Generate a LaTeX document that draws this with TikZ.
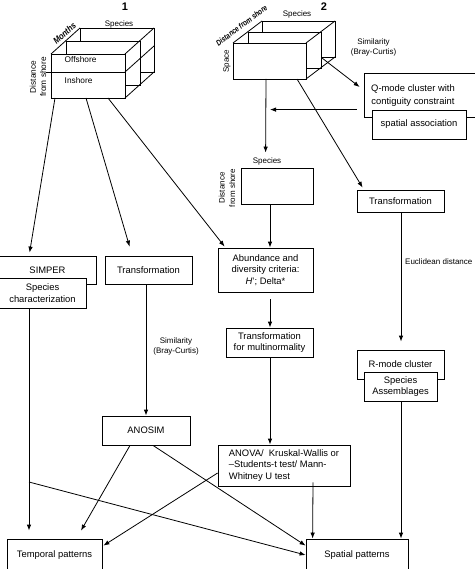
\documentclass[tikz,border=0pt]{standalone}
\usepackage{fontspec}
\setmainfont{Liberation Sans}
\usetikzlibrary{arrows.meta,calc}
\begin{document}
\begin{tikzpicture}[x=1pt,y=-1pt,
  box/.style={draw, fill=white, line width=0.8pt, inner sep=0pt, align=center, font=\fontsize{9.4}{11.4}\selectfont},
  lbl/.style={inner sep=0pt, align=center, font=\fontsize{8}{10.6}\selectfont},
  ttl/.style={inner sep=0pt, font=\bfseries\fontsize{11}{13}\selectfont},
  slant/.style={inner sep=0pt, font=\bfseries\itshape\fontsize{9}{9}\selectfont},
  ln/.style={line width=0.8pt},
  arr/.style={ln, -{Latex[length=6pt,width=4.5pt]}},
]
\fill[white] (0,0) rectangle (474,569);
\useasboundingbox (0,0) rectangle (474,569);

% ---------- cube 1 ----------
\draw[ln] (51,54) rectangle (125,98);
\draw[ln] (46,72) -- (125,72);
\draw[ln] (66.5,54) -- (66.5,41) -- (140,41) -- (140,85) -- (125,85);
\draw[ln] (80,41) -- (80,28) -- (154,28) -- (154,72) -- (140,72);
\draw[ln] (51,54) -- (80,28);
\draw[ln] (125,54) -- (154,28);
\draw[ln] (125,72) -- (154,46);
\draw[ln] (125,98) -- (154,72);

% ---------- cube 2 ----------
\draw[ln] (233,43) rectangle (306,79);
\draw[ln] (248.5,43) -- (248.5,32) -- (321.5,32) -- (321.5,68) -- (306,68);
\draw[ln] (262,32) -- (262,21) -- (335,21) -- (335,57) -- (321.5,57);
\draw[ln] (233,43) -- (262,21);
\draw[ln] (306,43) -- (335,21);
\draw[ln] (306,79) -- (335,57);

% ---------- labels ----------
\node[ttl] (n1) at (125,7) {1};
\node[ttl] (n2) at (324,7) {2};
\node[lbl] (sp1) at (119,24.5) {Species};
\node[slant, rotate=42] (months) at (64.5,33.5) {\scalebox{0.85}[1]{Months}};
\node[lbl, anchor=west, font=\fontsize{8.3}{10}\selectfont] (off) at (64.5,60) {Offshore};
\node[lbl, anchor=west, font=\fontsize{8.3}{10}\selectfont] (ins) at (64.5,81) {Inshore};
\node[lbl, rotate=90, font=\fontsize{8.3}{10.4}\selectfont] (dfs1) at (38,77) {Distance\\from shore};

\node[lbl] (sp2) at (297,14) {Species};
\node[slant, rotate=37, font=\bfseries\itshape\fontsize{8}{8}\selectfont] (dfs2) at (241.5,25.5) {\scalebox{0.8}[1]{Distance from shore}};
\node[lbl, rotate=90] (space) at (227,61) {Space};
\node[lbl] (sim1) at (373.5,47.5) {Similarity\\(Bray-Curtis)};

% ---------- boxes ----------
\node[box, minimum width=116, minimum height=44] (qmode) at (422,95) {};
\node[lbl, font=\fontsize{9.4}{12.2}\selectfont] (qtext) at (413,95.5) {Q-mode cluster with\\contiguity constraint};
\node[box, minimum width=94, minimum height=29] (spassoc) at (419,124.5) {spatial association};

\node[box, minimum width=72, minimum height=36] (dfs) at (277,186) {};
\node[lbl] (sp3) at (267,161) {Species};
\node[lbl, rotate=90] (dfs3) at (227,188) {Distance\\from shore};

\node[box, minimum width=87, minimum height=22] (transR) at (400.5,201) {Transformation};

\node[box, minimum width=97, minimum height=28] (simper) at (47.5,270) {SIMPER};
\node[box, minimum width=87, minimum height=30] (specchar) at (42.5,293) {Species\\characterization};
\node[box, minimum width=87, minimum height=28] (transL) at (148.5,270) {Transformation};
\node[box, minimum width=95, minimum height=44] (abund) at (265.5,270) {Abundance and\\diversity criteria:\\\textit{H}'; Delta*};

\node[box, minimum width=87, minimum height=29] (multi) at (269.5,342.5) {Transformation\\for multinormality};
\node[lbl] (sim2) at (176,346.3) {Similarity\\(Bray-Curtis)};
\node[lbl, anchor=west] (eucl) at (405,262) {Euclidean distance};

\node[box, minimum width=87, minimum height=29] (rmode) at (400.5,364.5) {R-mode cluster};
\node[box, minimum width=73, minimum height=29] (assemb) at (400.5,386.5) {Species\\Assemblages};

\node[box, minimum width=88, minimum height=29] (anosim) at (146,430.5) {ANOSIM};
\node[box, minimum width=132, minimum height=41, align=left] (anova) at (284,465.5) {ANOVA/\ \ Kruskal-Wallis or\\\textendash Students-t test/ Mann-\\Whitney U test};

\node[box, minimum width=95, minimum height=32] (temporal) at (54.5,555) {Temporal patterns};
\node[box, minimum width=102, minimum height=32] (spatial) at (357,555) {Spatial patterns};

% ---------- coordinates ----------
\coordinate (c1a) at (55,98);
\coordinate (c1b) at (86,98);
\coordinate (c1c) at (108,98);
\coordinate (c2a) at (266,79);
\coordinate (c2b) at (297,79);
\coordinate (c2c) at (322,58);
\coordinate (colM) at (270,0);
\coordinate (colL) at (146,0);
\coordinate (colR) at (401,0);
\coordinate (col1) at (29,0);
\coordinate (br) at (29,482);

% ---------- connectors ----------
\draw[arr] (c1a) -- ($(simper.north west)+(31,-3)$);
\draw[arr] (c1b) -- ($(transL.north west)+(25,-9)$);
\draw[arr] (c1c) -- ($(abund.north west)+(7,-1)$);

\draw[arr] (c2a) -- ($(dfs.north west)+(25,-15)$);
\draw[arr] (c2b) -- ($(transR.north west)+(6,-2)$);
\draw[arr] (c2c) -- ($(qmode.west)+(-4,-8)$);
\draw[arr] ($(spassoc.north west)+(-15,0)$) -- (colM |- spassoc.north west);

\draw[arr] (dfs.south -| colM) -- (abund.north -| colM);
\draw[arr] ($(abund.south -| colM)+(0,7)$) -- (multi.north -| colM);
\draw[arr] (multi.south -| colM) -- (anova.north -| colM);

\draw[arr] (transL.south -| colL) -- (anosim.north -| colL);
\draw[arr] (transR.south -| colR) -- ($(rmode.north -| colR)+(0,-8)$);
\draw[arr] (assemb.south -| colR) -- (spatial.north -| colR);

\draw[arr] (specchar.south -| col1) -- ($(temporal.north -| col1)+(0,-8)$);
\draw[arr] (br) -- (spatial.west);

\draw[arr] ($(anosim.south)+(-16,0)$) -- ($(temporal.north)+(26.5,-8)$);
\draw[arr] ($(anosim.south)+(7,0)$) -- ($(spatial.north west)+(0,7)$);
\draw[arr] ($(anova.west)+(0,7.5)$) -- ($(temporal.north east)+(1,7)$);
\draw[arr] ($(anova.south)+(29,-4)$) -- ($(spatial.north west)+(7,0)$);
\end{tikzpicture}
\end{document}
